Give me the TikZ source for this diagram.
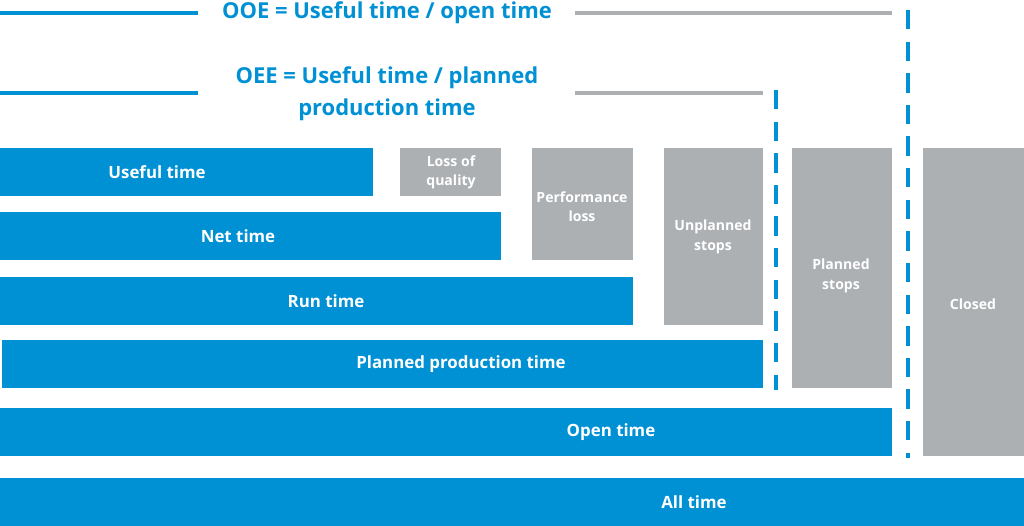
\documentclass[tikz,border=0pt]{standalone}
\usepackage{fontspec}
\setmainfont{Open Sans}
\definecolor{bl}{HTML}{0090D4}
\definecolor{gr}{HTML}{ADB0B3}
\begin{document}
\begin{tikzpicture}[x=0.02cm,y=-0.02cm,
  bar/.style={fill=bl,draw=none},
  gbar/.style={fill=gr,draw=none},
  lab/.style={text=white,font=\bfseries\fontsize{9.6}{11}\selectfont,align=center},
  slab/.style={text=white,font=\bfseries\fontsize{8}{11}\selectfont,align=center},
  ttl/.style={text=bl,font=\bfseries\fontsize{12.5}{18}\selectfont,align=center},
  dsh/.style={draw=bl,line width=2.3pt,dash pattern=on 11pt off 7pt}]
\useasboundingbox (0,0) rectangle (1024,526);
\fill[bar] (0,148) rectangle (373,196); \node[lab] (ut) at (157,172) {Useful time};
\fill[bar] (0,212) rectangle (501,260); \node[lab] (nt) at (238,236) {Net time};
\fill[bar] (0,277) rectangle (633,325); \node[lab] (rt) at (326,301) {Run time};
\fill[bar] (2,340) rectangle (763,388); \node[lab] (pp) at (461,364) {Planned production time};
\fill[bar] (0,408) rectangle (892,456); \node[lab] (ot) at (611,432) {Open time};
\fill[bar] (0,478) rectangle (1024,526); \node[lab] (at) at (694,502) {All time};
\fill[gbar] (400,148) rectangle (501,196); \node[slab] (lq) at (451,172) {Loss of\\quality};
\fill[gbar] (532,148) rectangle (633,260); \node[slab] (pl) at (582,207) {Performance\\loss};
\fill[gbar] (664,148) rectangle (763,325); \node[slab] (us) at (713,237) {Unplanned\\stops};
\fill[gbar] (792,148) rectangle (892,388); \node[slab] (ps) at (841,276) {Planned\\stops};
\fill[gbar] (923,148) rectangle (1024,456); \node[slab] (cl) at (973,304) {Closed};
\draw[dsh] (776,90) -- (776,390);
\draw[dsh] (908,10) -- (908,458);
\node[ttl] (ooe) at (387,13) {OOE = Useful time / open time};
\draw[bl,line width=2.3pt] (0,13) -- (198,13);
\draw[gr,line width=2.3pt] (575,13) -- (892,13);
\node[ttl] (oee) at (387,94) {OEE = Useful time / planned\\production time};
\draw[bl,line width=2.3pt] (0,93) -- (198,93);
\draw[gr,line width=2.3pt] (575,93) -- (763,93);
\end{tikzpicture}
\end{document}
